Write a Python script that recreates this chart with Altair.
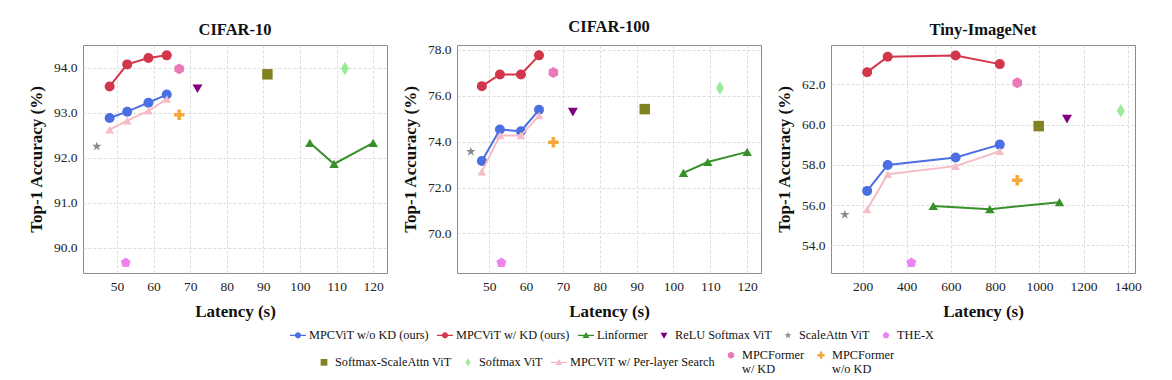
import altair as alt
import pandas as pd
import re

SERIES = ["MPCViT w/o KD (ours)", "MPCViT w/ KD (ours)", "Linformer", "ReLU Softmax ViT",
          "ScaleAttn ViT", "THE-X", "Softmax-ScaleAttn ViT", "Softmax ViT",
          "MPCViT w/ Per-layer Search", "MPCFormer|\u00a0\u00a0\u00a0\u00a0\u00a0w/ KD",
          "MPCFormer|\u00a0\u00a0\u00a0\u00a0w/o KD"]
COLORS = ["#4a6fe3", "#d2364a", "#38902a", "#800080", "#8a8a8a", "#ee82ee",
          "#828222", "#98ec98", "#f6bcc6", "#ec78ba", "#f5a83a"]

DATASETS = ["CIFAR-10", "CIFAR-100", "Tiny-ImageNet"]

# ---- CIFAR-10 ----
c10_mpcvit_lat = [48.0, 52.8, 58.6, 63.6]
c10_wo_kd = [92.88, 93.02, 93.22, 93.40]
c10_w_kd = [93.58, 94.07, 94.21, 94.27]
c10_perlayer = [92.62, 92.82, 93.04, 93.30]
c10_linf_lat = [102.7, 109.3, 120.0]
c10_linf = [92.33, 91.86, 92.33]
c10_single_lat = [72.0, 44.5, 52.4, 91.1, 112.3, 67.0, 67.0]
c10_single_acc = [93.53, 92.25, 89.67, 93.85, 93.98, 93.97, 92.95]

# ---- CIFAR-100 ----
c100_mpcvit_lat = [48.0, 52.9, 58.6, 63.5]
c100_wo_kd = [73.15, 74.52, 74.45, 75.38]
c100_w_kd = [76.41, 76.92, 76.92, 77.75]
c100_perlayer = [72.69, 74.26, 74.26, 75.13]
c100_linf_lat = [102.7, 109.3, 120.0]
c100_linf = [72.64, 73.11, 73.55]
c100_single_lat = [72.7, 45.0, 53.3, 92.2, 112.6, 67.4, 67.4]
c100_single_acc = [75.28, 73.56, 68.73, 75.41, 76.33, 77.00, 73.97]

# ---- Tiny-ImageNet ----
tin_mpcvit_lat = [221, 314, 621, 821]
tin_wo_kd = [56.71, 58.00, 58.37, 59.01]
tin_w_kd = [62.61, 63.38, 63.44, 63.01]
tin_perlayer = [55.78, 57.54, 57.94, 58.68]
tin_linf_lat = [520, 776, 1091]
tin_linf = [55.96, 55.80, 56.15]
tin_single_lat = [1125, 120, 421, 997, 1368, 900, 900]
tin_single_acc = [60.28, 55.53, 53.14, 59.93, 60.69, 62.08, 57.24]

SINGLE_SERIES = ["ReLU Softmax ViT", "ScaleAttn ViT", "THE-X", "Softmax-ScaleAttn ViT",
                 "Softmax ViT", SERIES[9], SERIES[10]]

rows = []
def add(ds, series, lats, accs):
    for la, ac in zip(lats, accs):
        rows.append({"dataset": ds, "series": series, "lat": la, "acc": ac})

for ds, mlat, wo, w, pl, llat, lacc, slat, sacc in [
    ("CIFAR-10", c10_mpcvit_lat, c10_wo_kd, c10_w_kd, c10_perlayer, c10_linf_lat, c10_linf, c10_single_lat, c10_single_acc),
    ("CIFAR-100", c100_mpcvit_lat, c100_wo_kd, c100_w_kd, c100_perlayer, c100_linf_lat, c100_linf, c100_single_lat, c100_single_acc),
    ("Tiny-ImageNet", tin_mpcvit_lat, tin_wo_kd, tin_w_kd, tin_perlayer, tin_linf_lat, tin_linf, tin_single_lat, tin_single_acc),
]:
    add(ds, SERIES[0], mlat, wo)
    add(ds, SERIES[1], mlat, w)
    add(ds, SERIES[8], mlat, pl)
    add(ds, SERIES[2], llat, lacc)
    for s, la, ac in zip(SINGLE_SERIES, slat, sacc):
        add(ds, s, [la], [ac])

df = pd.DataFrame(rows)

# marker shapes (plot)
STAR = "M0,-1L0.225,-0.309L0.951,-0.309L0.363,0.118L0.588,0.809L0,0.382L-0.588,0.809L-0.363,0.118L-0.951,-0.309L-0.225,-0.309Z"
PENT = "M0,-1L0.951,-0.309L0.588,0.809L-0.588,0.809L-0.951,-0.309Z"
HEX = "M0,-1L0.866,-0.5L0.866,0.5L0,1L-0.866,0.5L-0.866,-0.5Z"
PLUS = "M-1,-0.34H-0.34V-1H0.34V-0.34H1V0.34H0.34V1H-0.34V0.34H-1Z"
TDIAM = "M0,-1L0.6,0L0,1L-0.6,0Z"

PLOT_STYLE = {
    SERIES[0]: ("circle", 100),
    SERIES[1]: ("circle", 100),
    SERIES[2]: ("triangle-up", 90),
    SERIES[3]: ("triangle-down", 100),
    SERIES[4]: (STAR, 100),
    SERIES[5]: (PENT, 110),
    SERIES[6]: ("square", 110),
    SERIES[7]: (TDIAM, 180),
    SERIES[8]: ("triangle-up", 75),
    SERIES[9]: (HEX, 120),
    SERIES[10]: (PLUS, 110),
}
LINE_SERIES = [SERIES[0], SERIES[1], SERIES[2], SERIES[8]]


def scaled(path, k):
    return re.sub(r"-?\d+\.?\d*", lambda m: f"{float(m.group(0))*k:.3f}", path)

BAR = "M-1,-0.07H1V0.07H-1Z "
CIRC = "M0.38,0A0.38,0.38 0 1,1 -0.38,0A0.38,0.38 0 1,1 0.38,0Z"
TRI = "M0,-0.42L0.44,0.32L-0.44,0.32Z"
LEG_SHAPES = [
    BAR + CIRC,
    BAR + CIRC,
    BAR + TRI,
    "M-0.44,-0.32L0.44,-0.32L0,0.42Z",
    scaled(STAR, 0.47),
    scaled(PENT, 0.45),
    "M-0.42,-0.42H0.42V0.42H-0.42Z",
    scaled(TDIAM, 0.5),
    BAR + TRI,
    scaled(HEX, 0.45),
    scaled(PLUS, 0.45),
]
GROUP_A = list(range(0, 6))
GROUP_B = list(range(6, 11))

SERIF = "Liberation Serif"

PANELS = [
    ("CIFAR-10", [40.725, 123.775], [89.44, 94.50], [50, 60, 70, 80, 90, 100, 110, 120], [90, 91, 92, 93, 94]),
    ("CIFAR-100", [41.25, 123.75], [68.28, 78.20], [50, 60, 70, 80, 90, 100, 110, 120], [70, 72, 74, 76, 78]),
    ("Tiny-ImageNet", [57.5, 1432.5], [52.63, 63.96], [200, 400, 600, 800, 1000, 1200, 1400], [54, 56, 58, 60, 62]),
]


def make_legend(lx, ly, n, use_encode):
    kw = dict(title=None, orient="none", legendX=lx, legendY=ly,
              direction="horizontal", columns=n,
              symbolSize=256, symbolOffset=0, labelOffset=2,
              columnPadding=7, padding=0,
              labelFont=SERIF, labelFontSize=12.3, labelColor="#111",
              labelLimit=300, labelExpr="split(datum.label, '|')")
    if use_encode:
        kw["encode"] = {"labels": {"dy": {"condition": {"test": "indexof(datum.value, '|') >= 0", "value": -7.5},
                                          "value": 0}}}
    return alt.Legend(**kw)


def panel(ds, xdom, ydom, xticks, yticks, with_legend, use_encode):
    base = alt.Chart(df).transform_filter(alt.datum.dataset == ds)
    x = alt.X("lat:Q", scale=alt.Scale(domain=xdom, nice=False, zero=False),
              axis=alt.Axis(values=xticks, format="d", title="Latency (s)"))
    y = alt.Y("acc:Q", scale=alt.Scale(domain=ydom, nice=False, zero=False),
              axis=alt.Axis(values=yticks, format=".1f", title="Top-1 Accuracy (%)"))
    color = alt.Color("series:N", scale=alt.Scale(domain=SERIES, range=COLORS), legend=None)
    layers = []
    if with_legend:
        hid = []
        for grp, lx, ly in [(GROUP_A, 206, 281), (GROUP_B, 232, 301)]:
            dom = [SERIES[i] for i in grp]
            leg = make_legend(lx, ly, len(grp), use_encode)
            hid.append(base.transform_filter("false").mark_point(filled=True, opacity=1).encode(
                color=alt.Color("series:N", scale=alt.Scale(domain=dom, range=[COLORS[i] for i in grp]), legend=leg),
                shape=alt.Shape("series:N", scale=alt.Scale(domain=dom, range=[LEG_SHAPES[i] for i in grp]), legend=leg),
            ))
        layers.append(alt.layer(*hid).resolve_scale(color="independent", shape="independent"))
    for s in SERIES:
        sub = base.transform_filter(alt.datum.series == s)
        if s in LINE_SERIES:
            layers.append(sub.mark_line(strokeWidth=2, opacity=1).encode(x=x, y=y, color=color))
        shp, sz = PLOT_STYLE[s]
        layers.append(sub.mark_point(filled=True, shape=shp, size=sz, opacity=1).encode(x=x, y=y, color=color))
    return alt.layer(*layers).properties(
        width=304, height=228,
        title=alt.TitleParams(ds, font=SERIF, fontSize=16.5, fontWeight="bold", color="#111", offset=7),
    )


def build(use_encode):
    charts = [panel(ds, xd, yd, xt, yt, i == 0, use_encode) for i, (ds, xd, yd, xt, yt) in enumerate(PANELS)]
    return alt.hconcat(*charts, spacing=70, bounds="flush").properties(
        padding={"left": 18, "top": 10, "right": 5, "bottom": 5}
    ).configure_view(
        stroke="#8c8c8c", strokeWidth=1
    ).configure_axis(
        grid=True, gridDash=[3, 2], gridColor="#d4d4d4", gridWidth=0.8,
        domain=False, ticks=False,
        labelFont=SERIF, labelFontSize=13.5, labelColor="#222", labelPadding=6,
        titleFont=SERIF, titleFontSize=17, titleFontWeight="bold", titleColor="#111",
    ).configure_axisY(titlePadding=8).configure_axisX(titlePadding=11)


try:
    chart = build(True)
    chart.to_dict()
except Exception:
    chart = build(False)

chart.save("out.html", embed_options={"renderer": "svg", "actions": False})
